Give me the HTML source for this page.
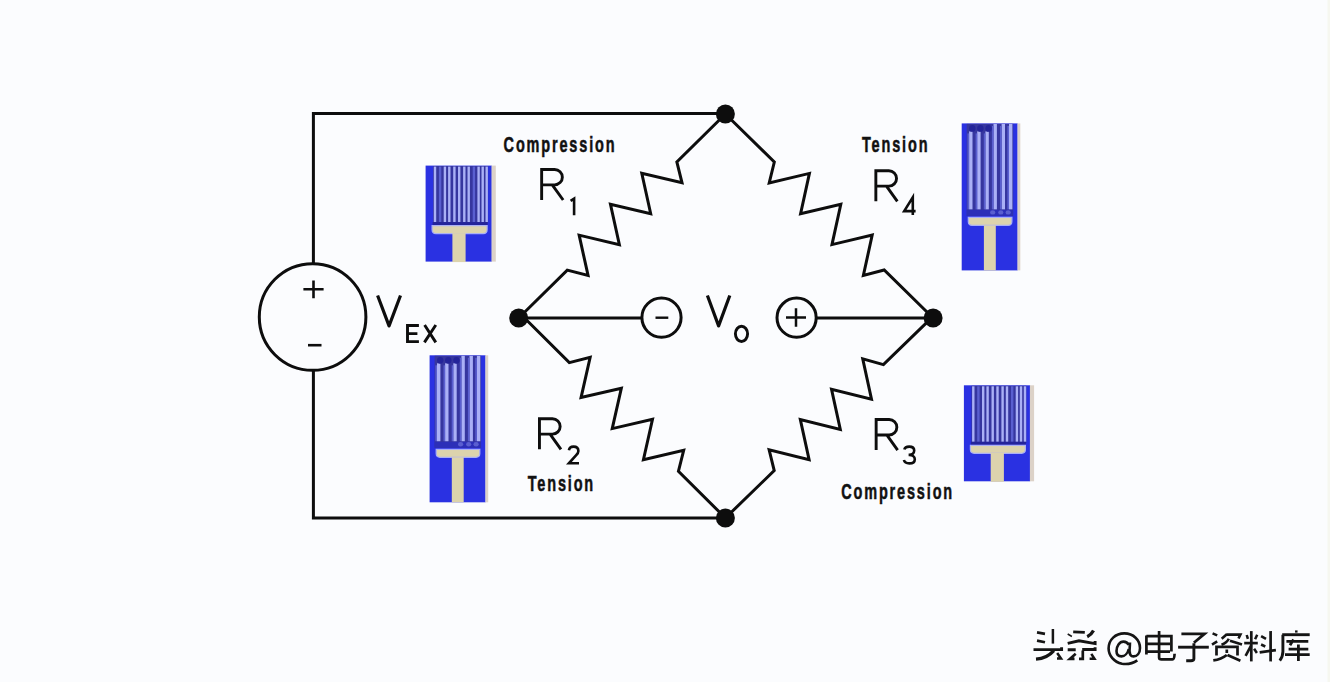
<!DOCTYPE html>
<html><head><meta charset="utf-8"><style>
html,body{margin:0;padding:0;background:#fbfcfe;overflow:hidden;}
svg{display:block;}
text{font-family:"Liberation Sans",sans-serif;}
</style></head><body>
<svg width="1330" height="682" viewBox="0 0 1330 682">
<rect width="1330" height="682" fill="#fbfcfe"/>
<rect x="1327.5" y="0" width="2.5" height="682" fill="#f6f7f0"/>
<rect x="425.6" y="165.6" width="66.2" height="96" fill="#2a31e2"/>
<rect x="491.6" y="165.6" width="4.2" height="96" fill="#dcd2c8"/>
<rect x="433.1" y="166.1" width="55" height="57" fill="#36369f"/>
<rect x="433.8" y="166.6" width="2.4" height="55.5" fill="#aab0f6"/>
<rect x="438.9" y="166.6" width="2.4" height="55.5" fill="#5a5fd0"/>
<rect x="443.7" y="166.6" width="2.4" height="55.5" fill="#aab0f6"/>
<rect x="448.1" y="166.6" width="2.4" height="55.5" fill="#aab0f6"/>
<rect x="453.2" y="166.6" width="2.4" height="55.5" fill="#aab0f6"/>
<rect x="458.0" y="166.6" width="2.4" height="55.5" fill="#aab0f6"/>
<rect x="463.1" y="166.6" width="2.4" height="55.5" fill="#aab0f6"/>
<rect x="467.5" y="166.6" width="2.4" height="55.5" fill="#aab0f6"/>
<rect x="472.7" y="166.6" width="2.4" height="55.5" fill="#5a5fd0"/>
<rect x="477.4" y="166.6" width="2.4" height="55.5" fill="#aab0f6"/>
<rect x="481.5" y="166.6" width="2.4" height="55.5" fill="#aab0f6"/>
<rect x="485.5" y="166.6" width="2.4" height="55.5" fill="#aab0f6"/>
<rect x="432.6" y="222.1" width="55" height="3" fill="#24249a"/>
<path d="M432.1,225.6 h55 v4.2 q0,3.8 -3.8,3.8 h-47.4 q-3.8,0 -3.8,-3.8 z" fill="#dcd3ad" stroke="#aab0f6" stroke-width="1.2"/>
<rect x="452.4" y="233.1" width="13.2" height="29" fill="#dcd3ad"/>
<rect x="963.9" y="385.3" width="66.2" height="96" fill="#2a31e2"/>
<rect x="1029.9" y="385.3" width="4.2" height="96" fill="#dcd2c8"/>
<rect x="971.4" y="385.8" width="55" height="57" fill="#36369f"/>
<rect x="972.1" y="386.3" width="2.4" height="55.5" fill="#aab0f6"/>
<rect x="977.2" y="386.3" width="2.4" height="55.5" fill="#5a5fd0"/>
<rect x="982.0" y="386.3" width="2.4" height="55.5" fill="#aab0f6"/>
<rect x="986.4" y="386.3" width="2.4" height="55.5" fill="#aab0f6"/>
<rect x="991.5" y="386.3" width="2.4" height="55.5" fill="#aab0f6"/>
<rect x="996.3" y="386.3" width="2.4" height="55.5" fill="#aab0f6"/>
<rect x="1001.4" y="386.3" width="2.4" height="55.5" fill="#aab0f6"/>
<rect x="1005.8" y="386.3" width="2.4" height="55.5" fill="#aab0f6"/>
<rect x="1011.0" y="386.3" width="2.4" height="55.5" fill="#5a5fd0"/>
<rect x="1015.7" y="386.3" width="2.4" height="55.5" fill="#aab0f6"/>
<rect x="1019.8" y="386.3" width="2.4" height="55.5" fill="#aab0f6"/>
<rect x="1023.8" y="386.3" width="2.4" height="55.5" fill="#aab0f6"/>
<rect x="970.9" y="441.8" width="55" height="3" fill="#24249a"/>
<path d="M970.4,445.3 h55 v4.2 q0,3.8 -3.8,3.8 h-47.4 q-3.8,0 -3.8,-3.8 z" fill="#dcd3ad" stroke="#aab0f6" stroke-width="1.2"/>
<rect x="990.7" y="452.8" width="13.2" height="29" fill="#dcd3ad"/>
<rect x="429.6" y="355.3" width="56" height="147" fill="#2a31e2"/>
<rect x="485.4" y="355.3" width="2.8" height="147" fill="#dcd2c8"/>
<rect x="434.6" y="355.8" width="46.5" height="92" fill="#36369f"/>
<rect x="437.0" y="363.3" width="3.4" height="78.0" fill="#aab0f6"/>
<rect x="435.4" y="365.3" width="1.6" height="76.0" fill="#5a5fd0"/>
<rect x="445.1" y="363.3" width="3.4" height="78.0" fill="#aab0f6"/>
<rect x="443.5" y="365.3" width="1.6" height="76.0" fill="#5a5fd0"/>
<rect x="453.3" y="363.3" width="3.4" height="78.0" fill="#aab0f6"/>
<rect x="451.7" y="365.3" width="1.6" height="76.0" fill="#5a5fd0"/>
<rect x="461.4" y="355.8" width="3.4" height="85.5" fill="#aab0f6"/>
<rect x="459.8" y="357.8" width="1.6" height="83.5" fill="#5a5fd0"/>
<rect x="469.5" y="355.8" width="3.4" height="85.5" fill="#aab0f6"/>
<rect x="467.9" y="357.8" width="1.6" height="83.5" fill="#5a5fd0"/>
<rect x="476.9" y="355.8" width="3.4" height="85.5" fill="#aab0f6"/>
<rect x="475.3" y="357.8" width="1.6" height="83.5" fill="#5a5fd0"/>
<ellipse cx="440.2" cy="360.3" rx="3.2" ry="3.4" fill="#24249a"/>
<ellipse cx="448.3" cy="360.3" rx="3.2" ry="3.4" fill="#24249a"/>
<ellipse cx="456.5" cy="360.3" rx="3.2" ry="3.4" fill="#24249a"/>
<rect x="434.6" y="441.8" width="46" height="6" fill="#2c2fb8"/>
<ellipse cx="460.6" cy="444.3" rx="2.6" ry="2.2" fill="#5a5fd0"/>
<ellipse cx="468.7" cy="444.3" rx="2.6" ry="2.2" fill="#5a5fd0"/>
<ellipse cx="476.1" cy="444.3" rx="2.6" ry="2.2" fill="#5a5fd0"/>
<path d="M436.2,449.3 h43.6 v4.2 q0,3.8 -3.8,3.8 h-36 q-3.8,0 -3.8,-3.8 z" fill="#dcd3ad" stroke="#aab0f6" stroke-width="1.2"/>
<rect x="451.8" y="457.3" width="11.9" height="45" fill="#dcd3ad"/>
<rect x="961.7" y="123.4" width="56" height="147" fill="#2a31e2"/>
<rect x="1017.5" y="123.4" width="2.8" height="147" fill="#dcd2c8"/>
<rect x="966.7" y="123.9" width="46.5" height="92" fill="#36369f"/>
<rect x="969.1" y="131.4" width="3.4" height="78.0" fill="#aab0f6"/>
<rect x="967.5" y="133.4" width="1.6" height="76.0" fill="#5a5fd0"/>
<rect x="977.2" y="131.4" width="3.4" height="78.0" fill="#aab0f6"/>
<rect x="975.6" y="133.4" width="1.6" height="76.0" fill="#5a5fd0"/>
<rect x="985.4" y="131.4" width="3.4" height="78.0" fill="#aab0f6"/>
<rect x="983.8" y="133.4" width="1.6" height="76.0" fill="#5a5fd0"/>
<rect x="993.5" y="123.9" width="3.4" height="85.5" fill="#aab0f6"/>
<rect x="991.9" y="125.9" width="1.6" height="83.5" fill="#5a5fd0"/>
<rect x="1001.6" y="123.9" width="3.4" height="85.5" fill="#aab0f6"/>
<rect x="1000.0" y="125.9" width="1.6" height="83.5" fill="#5a5fd0"/>
<rect x="1009.0" y="123.9" width="3.4" height="85.5" fill="#aab0f6"/>
<rect x="1007.4" y="125.9" width="1.6" height="83.5" fill="#5a5fd0"/>
<ellipse cx="972.3" cy="128.4" rx="3.2" ry="3.4" fill="#24249a"/>
<ellipse cx="980.4" cy="128.4" rx="3.2" ry="3.4" fill="#24249a"/>
<ellipse cx="988.6" cy="128.4" rx="3.2" ry="3.4" fill="#24249a"/>
<rect x="966.7" y="209.9" width="46" height="6" fill="#2c2fb8"/>
<ellipse cx="992.7" cy="212.4" rx="2.6" ry="2.2" fill="#5a5fd0"/>
<ellipse cx="1000.8" cy="212.4" rx="2.6" ry="2.2" fill="#5a5fd0"/>
<ellipse cx="1008.2" cy="212.4" rx="2.6" ry="2.2" fill="#5a5fd0"/>
<path d="M968.3,217.4 h43.6 v4.2 q0,3.8 -3.8,3.8 h-36 q-3.8,0 -3.8,-3.8 z" fill="#dcd3ad" stroke="#aab0f6" stroke-width="1.2"/>
<rect x="983.9" y="225.4" width="11.9" height="45" fill="#dcd3ad"/>
<path d="M313.4,264 V113.5 H725.4" fill="none" stroke="#0d0d0d" stroke-width="3" stroke-linejoin="miter"/>
<path d="M313.4,370 V518 H725.4" fill="none" stroke="#0d0d0d" stroke-width="3" stroke-linejoin="miter"/>
<circle cx="312.6" cy="317" r="53.3" fill="none" stroke="#0d0d0d" stroke-width="3"/>
<path d="M518.70,318.00 L567.25,270.09 L588.07,275.53 L579.14,235.16 L619.39,244.62 L610.46,204.26 L650.70,213.71 L641.78,173.35 L682.02,182.81 L676.85,161.91 L725.40,114.00" fill="none" stroke="#0d0d0d" stroke-width="3" stroke-linejoin="miter" stroke-miterlimit="10"/>
<path d="M933.10,318.00 L884.18,269.96 L863.37,275.45 L872.20,235.06 L831.98,244.61 L840.81,204.23 L800.59,213.78 L809.42,173.40 L769.20,182.95 L774.32,162.04 L725.40,114.00" fill="none" stroke="#0d0d0d" stroke-width="3" stroke-linejoin="miter" stroke-miterlimit="10"/>
<path d="M521.50,315.00 L569.31,362.60 L590.16,357.25 L581.05,397.57 L621.34,388.29 L612.23,428.62 L652.52,419.33 L643.42,459.66 L683.70,450.38 L678.44,471.25 L725.40,518.00" fill="none" stroke="#0d0d0d" stroke-width="3" stroke-linejoin="miter" stroke-miterlimit="10"/>
<path d="M933.10,316.40 L883.42,364.62 L862.73,358.92 L871.51,399.17 L831.53,389.20 L840.31,429.46 L800.33,419.48 L809.11,459.74 L769.13,449.77 L774.22,470.61 L725.40,518.00" fill="none" stroke="#0d0d0d" stroke-width="3" stroke-linejoin="miter" stroke-miterlimit="10"/>
<path d="M518.7,318 H642" fill="none" stroke="#0d0d0d" stroke-width="3"/>
<path d="M816,318 H933" fill="none" stroke="#0d0d0d" stroke-width="3"/>
<circle cx="661.5" cy="317.6" r="19.6" fill="none" stroke="#0d0d0d" stroke-width="3"/>
<circle cx="796.6" cy="317.7" r="19.6" fill="none" stroke="#0d0d0d" stroke-width="3"/>
<path d="M655.5,317.7 H668.3" stroke="#0d0d0d" stroke-width="2.4"/>
<path d="M786,317.5 H806 M796,308.2 V326.7" stroke="#0d0d0d" stroke-width="2.5"/>
<path d="M303.4,289.3 H323.6 M313.5,280.5 V298.2" stroke="#0d0d0d" stroke-width="2.6"/>
<path d="M308,345.2 H321.5" stroke="#0d0d0d" stroke-width="2.6"/>
<circle cx="725.4" cy="114.0" r="9.5" fill="#0d0d0d"/>
<circle cx="518.7" cy="318.0" r="9.5" fill="#0d0d0d"/>
<circle cx="933.1" cy="318.0" r="9.5" fill="#0d0d0d"/>
<circle cx="725.4" cy="518.0" r="9.5" fill="#0d0d0d"/>
<path d="M541.65,200.00 V169.45 H554.65 A7.70,7.70 0 0 1 554.65,184.85 H541.65 M552.25,184.85 L563.15,200.00" fill="none" stroke="#0d0d0d" stroke-width="2.90" stroke-linejoin="miter" stroke-linecap="butt"/>
<path d="M539.45,449.30 V418.75 H552.45 A7.70,7.70 0 0 1 552.45,434.15 H539.45 M550.05,434.15 L560.95,449.30" fill="none" stroke="#0d0d0d" stroke-width="2.90" stroke-linejoin="miter" stroke-linecap="butt"/>
<path d="M876.15,450.10 V419.55 H889.15 A7.70,7.70 0 0 1 889.15,434.95 H876.15 M886.75,434.95 L897.65,450.10" fill="none" stroke="#0d0d0d" stroke-width="2.90" stroke-linejoin="miter" stroke-linecap="butt"/>
<path d="M875.85,201.30 V170.75 H888.85 A7.70,7.70 0 0 1 888.85,186.15 H875.85 M886.45,186.15 L897.35,201.30" fill="none" stroke="#0d0d0d" stroke-width="2.90" stroke-linejoin="miter" stroke-linecap="butt"/>
<path d="M574.1,215.3 V198.6 L570.6,200.8" fill="none" stroke="#0d0d0d" stroke-width="2.60" stroke-linejoin="miter" stroke-linecap="butt"/>
<path d="M568.9,450.2 C569.3,447.6 571.2,446.6 573.5,446.6 C576.4,446.6 578.4,448.3 578.4,450.9 C578.4,452.6 577.4,453.9 576.2,455.2 L568.9,463.3 H579.0" fill="none" stroke="#0d0d0d" stroke-width="2.60" stroke-linejoin="miter" stroke-linecap="butt"/>
<path d="M904.3,449.5 C904.8,447.5 906.7,446.6 909.2,446.6 C912.3,446.6 914.2,448.3 914.2,450.6 C914.2,453.1 912.2,454.9 909.2,454.9 H908.6 M909.2,454.9 C912.6,454.9 914.8,456.8 914.8,459.2 C914.8,462.0 912.4,463.4 909.3,463.4 C906.4,463.4 904.5,462.2 903.9,460.0" fill="none" stroke="#0d0d0d" stroke-width="2.60" stroke-linejoin="miter" stroke-linecap="butt"/>
<path d="M915.6,211.1 H904.2 L912.8,197.3 V215.0" fill="none" stroke="#0d0d0d" stroke-width="2.60" stroke-linejoin="miter" stroke-linecap="butt"/>
<path d="M377.6,295.5 L389.05,325.9 L400.5,295.5" fill="none" stroke="#0d0d0d" stroke-width="3.20" stroke-linejoin="round" stroke-linecap="butt"/>
<path d="M418.9,325.5 H407.5 V341.6 H418.9 M407.5,333.6 H417.4" fill="none" stroke="#0d0d0d" stroke-width="2.90" stroke-linejoin="miter" stroke-linecap="butt"/>
<path d="M424.6,325.0 L435.8,342.4 M435.8,325.0 L424.4,342.4" fill="none" stroke="#0d0d0d" stroke-width="2.90" stroke-linejoin="miter" stroke-linecap="butt"/>
<path d="M707.4,295.5 L718.6,325.9 L729.8,295.5" fill="none" stroke="#0d0d0d" stroke-width="3.20" stroke-linejoin="round" stroke-linecap="butt"/>
<ellipse cx="741.5" cy="333.85" rx="6.1" ry="7.6" fill="none" stroke="#0d0d0d" stroke-width="2.90"/>
<text transform="translate(503.60,152.00) scale(0.640,1)" x="0" y="0" letter-spacing="2.90" font-family="Liberation Sans" font-weight="bold" font-size="22.6" fill="#111" stroke="#111" stroke-width="0.55">Compression</text>
<text transform="translate(862.00,151.70) scale(0.640,1)" x="0" y="0" letter-spacing="2.90" font-family="Liberation Sans" font-weight="bold" font-size="22.6" fill="#111" stroke="#111" stroke-width="0.55">Tension</text>
<text transform="translate(527.70,490.70) scale(0.640,1)" x="0" y="0" letter-spacing="2.90" font-family="Liberation Sans" font-weight="bold" font-size="22.6" fill="#111" stroke="#111" stroke-width="0.55">Tension</text>
<text transform="translate(841.20,499.00) scale(0.640,1)" x="0" y="0" letter-spacing="2.90" font-family="Liberation Sans" font-weight="bold" font-size="22.6" fill="#111" stroke="#111" stroke-width="0.55">Compression</text>
<path d="M1037,632.3 L1045,633.8" fill="none" stroke="#151515" stroke-width="2.70" stroke-linecap="butt" stroke-linejoin="miter"/>
<path d="M1037,640.6 L1045,642.2" fill="none" stroke="#151515" stroke-width="2.70" stroke-linecap="butt" stroke-linejoin="miter"/>
<path d="M1052.9,629 V643.6" fill="none" stroke="#151515" stroke-width="2.50" stroke-linecap="butt" stroke-linejoin="miter"/>
<path d="M1033.5,649.6 H1061.6 V647.2" fill="none" stroke="#151515" stroke-width="2.90" stroke-linecap="butt" stroke-linejoin="miter"/>
<path d="M1053.8,650.6 C1050,655 1044,658.6 1036,659.2" fill="none" stroke="#151515" stroke-width="3.30" stroke-linecap="butt" stroke-linejoin="miter"/>
<path d="M1057.2,653 L1061,658.6 H1057" fill="none" stroke="#151515" stroke-width="2.50" stroke-linecap="butt" stroke-linejoin="miter"/>
<path d="M1073.2,631.9 L1084.8,632.4" fill="none" stroke="#151515" stroke-width="2.70" stroke-linecap="butt" stroke-linejoin="miter"/>
<path d="M1093.5,630.6 C1092,633.5 1090,635.5 1087.2,636.8" fill="none" stroke="#151515" stroke-width="3.30" stroke-linecap="butt" stroke-linejoin="miter"/>
<path d="M1067.7,634 L1071.9,636.5" fill="none" stroke="#151515" stroke-width="1.50" stroke-linecap="butt" stroke-linejoin="miter"/>
<path d="M1067.7,643.4 L1079,640.8 L1095.1,643.6 V641" fill="none" stroke="#151515" stroke-width="2.90" stroke-linecap="butt" stroke-linejoin="miter"/>
<path d="M1067.7,649.7 H1075.7 M1082.2,649.5 H1095.1 V647.2" fill="none" stroke="#151515" stroke-width="2.90" stroke-linecap="butt" stroke-linejoin="miter"/>
<path d="M1082.8,650.4 V658.8 H1079" fill="none" stroke="#151515" stroke-width="2.70" stroke-linecap="butt" stroke-linejoin="miter"/>
<path d="M1075.7,653.8 L1070,658.8 H1074.5" fill="none" stroke="#151515" stroke-width="2.70" stroke-linecap="butt" stroke-linejoin="miter"/>
<path d="M1091.3,653.8 L1094.5,658.8 H1089.6" fill="none" stroke="#151515" stroke-width="2.50" stroke-linecap="butt" stroke-linejoin="miter"/>
<path d="M1137.3,660.4 C1132,664 1126,664.4 1122,663.8 C1114,662 1108.6,655.5 1108.6,648.5 C1108.6,639.5 1115.5,633.4 1124.3,633.4 C1133.5,633.4 1140,640 1140,648 C1140,653.5 1137,656.4 1133.5,656.4 C1130.6,656.4 1129.6,654.2 1129.8,651.5" fill="none" stroke="#151515" stroke-width="2.60" stroke-linecap="butt" stroke-linejoin="miter"/>
<path d="M1130,642.5 L1129.4,653.5" fill="none" stroke="#151515" stroke-width="2.60" stroke-linecap="butt" stroke-linejoin="miter"/>
<path d="M1128.8,645 C1127.5,642.5 1125.5,641.6 1123.5,641.6 C1119.5,641.6 1116.5,646 1116.5,651 C1116.5,654.5 1118.5,656.4 1121.4,656.4 C1124.8,656.4 1127.8,653 1128.8,649" fill="none" stroke="#151515" stroke-width="2.60" stroke-linecap="butt" stroke-linejoin="miter"/>
<path d="M1146.4,635.4 V654.4 M1146.4,636.1 H1171.4 V651.6 M1146.4,643.8 H1170 M1146.4,651.6 H1170" fill="none" stroke="#151515" stroke-width="2.70" stroke-linecap="butt" stroke-linejoin="miter"/>
<path d="M1159.1,631.1 V657.5 C1159.1,659 1160,659.4 1161.5,659.4 H1172.5 C1174,659.4 1174.4,657.5 1174.6,653.7" fill="none" stroke="#151515" stroke-width="2.70" stroke-linecap="butt" stroke-linejoin="miter"/>
<path d="M1181.4,633.9 H1204.5 L1193.9,642.8" fill="none" stroke="#151515" stroke-width="2.80" stroke-linecap="butt" stroke-linejoin="miter"/>
<path d="M1178.1,647.2 H1208.8" fill="none" stroke="#151515" stroke-width="2.90" stroke-linecap="butt" stroke-linejoin="miter"/>
<path d="M1193.9,643.3 V658.8 C1193.9,660.2 1192.5,660.7 1191,660.7 H1186.2" fill="none" stroke="#151515" stroke-width="2.90" stroke-linecap="butt" stroke-linejoin="miter"/>
<path d="M1212.6,633.3 L1217.2,635.4" fill="none" stroke="#151515" stroke-width="2.50" stroke-linecap="butt" stroke-linejoin="miter"/>
<path d="M1212,644.6 L1217.2,641.4" fill="none" stroke="#151515" stroke-width="2.60" stroke-linecap="butt" stroke-linejoin="miter"/>
<path d="M1226.8,634.3 L1221.7,638.8 M1226.4,634.6 H1240.4 L1238.5,638.5" fill="none" stroke="#151515" stroke-width="2.60" stroke-linecap="butt" stroke-linejoin="miter"/>
<path d="M1228.8,638.8 C1227.5,641.5 1225,643.5 1221.5,644.8 M1230,640.7 L1242,644.6" fill="none" stroke="#151515" stroke-width="2.60" stroke-linecap="butt" stroke-linejoin="miter"/>
<path d="M1216.5,655.5 V646.8 H1237.5 V655.5 M1226.8,649.5 V653" fill="none" stroke="#151515" stroke-width="2.70" stroke-linecap="butt" stroke-linejoin="miter"/>
<path d="M1226.8,655 C1223,658 1219,659.6 1213.3,660.4 M1227.5,655 L1240.4,660.7" fill="none" stroke="#151515" stroke-width="2.70" stroke-linecap="butt" stroke-linejoin="miter"/>
<path d="M1251.3,631.1 V661.4" fill="none" stroke="#151515" stroke-width="2.70" stroke-linecap="butt" stroke-linejoin="miter"/>
<path d="M1246.7,635 L1247.9,638.9" fill="none" stroke="#151515" stroke-width="2.50" stroke-linecap="butt" stroke-linejoin="miter"/>
<path d="M1257.2,634.7 L1255.1,639.2" fill="none" stroke="#151515" stroke-width="2.50" stroke-linecap="butt" stroke-linejoin="miter"/>
<path d="M1244.2,643.1 H1257.8" fill="none" stroke="#151515" stroke-width="2.70" stroke-linecap="butt" stroke-linejoin="miter"/>
<path d="M1251.3,645.2 L1245.6,655.8" fill="none" stroke="#151515" stroke-width="2.60" stroke-linecap="butt" stroke-linejoin="miter"/>
<path d="M1254.1,648.7 L1256.9,653" fill="none" stroke="#151515" stroke-width="2.50" stroke-linecap="butt" stroke-linejoin="miter"/>
<path d="M1261.1,636.1 L1266,638.9" fill="none" stroke="#151515" stroke-width="2.50" stroke-linecap="butt" stroke-linejoin="miter"/>
<path d="M1261.1,644.5 L1265.3,646.5" fill="none" stroke="#151515" stroke-width="2.50" stroke-linecap="butt" stroke-linejoin="miter"/>
<path d="M1259.7,652.4 L1275.9,650.1" fill="none" stroke="#151515" stroke-width="2.70" stroke-linecap="butt" stroke-linejoin="miter"/>
<path d="M1270.6,631.1 V661.4" fill="none" stroke="#151515" stroke-width="2.70" stroke-linecap="butt" stroke-linejoin="miter"/>
<path d="M1296.3,630.4 V632.6" fill="none" stroke="#151515" stroke-width="2.50" stroke-linecap="butt" stroke-linejoin="miter"/>
<path d="M1282.2,634.7 H1309.7" fill="none" stroke="#151515" stroke-width="2.90" stroke-linecap="butt" stroke-linejoin="miter"/>
<path d="M1282.9,634.7 V651.6 C1282.9,655 1281.8,658 1279.8,660.6" fill="none" stroke="#151515" stroke-width="2.90" stroke-linecap="butt" stroke-linejoin="miter"/>
<path d="M1286.4,641.4 H1308.3 M1293.5,639.6 L1290,645.2 M1288.6,649.1 H1308.3 M1285,654.7 H1309.7 M1298.4,644.5 V661" fill="none" stroke="#151515" stroke-width="2.80" stroke-linecap="butt" stroke-linejoin="miter"/>
</svg>
</body></html>
